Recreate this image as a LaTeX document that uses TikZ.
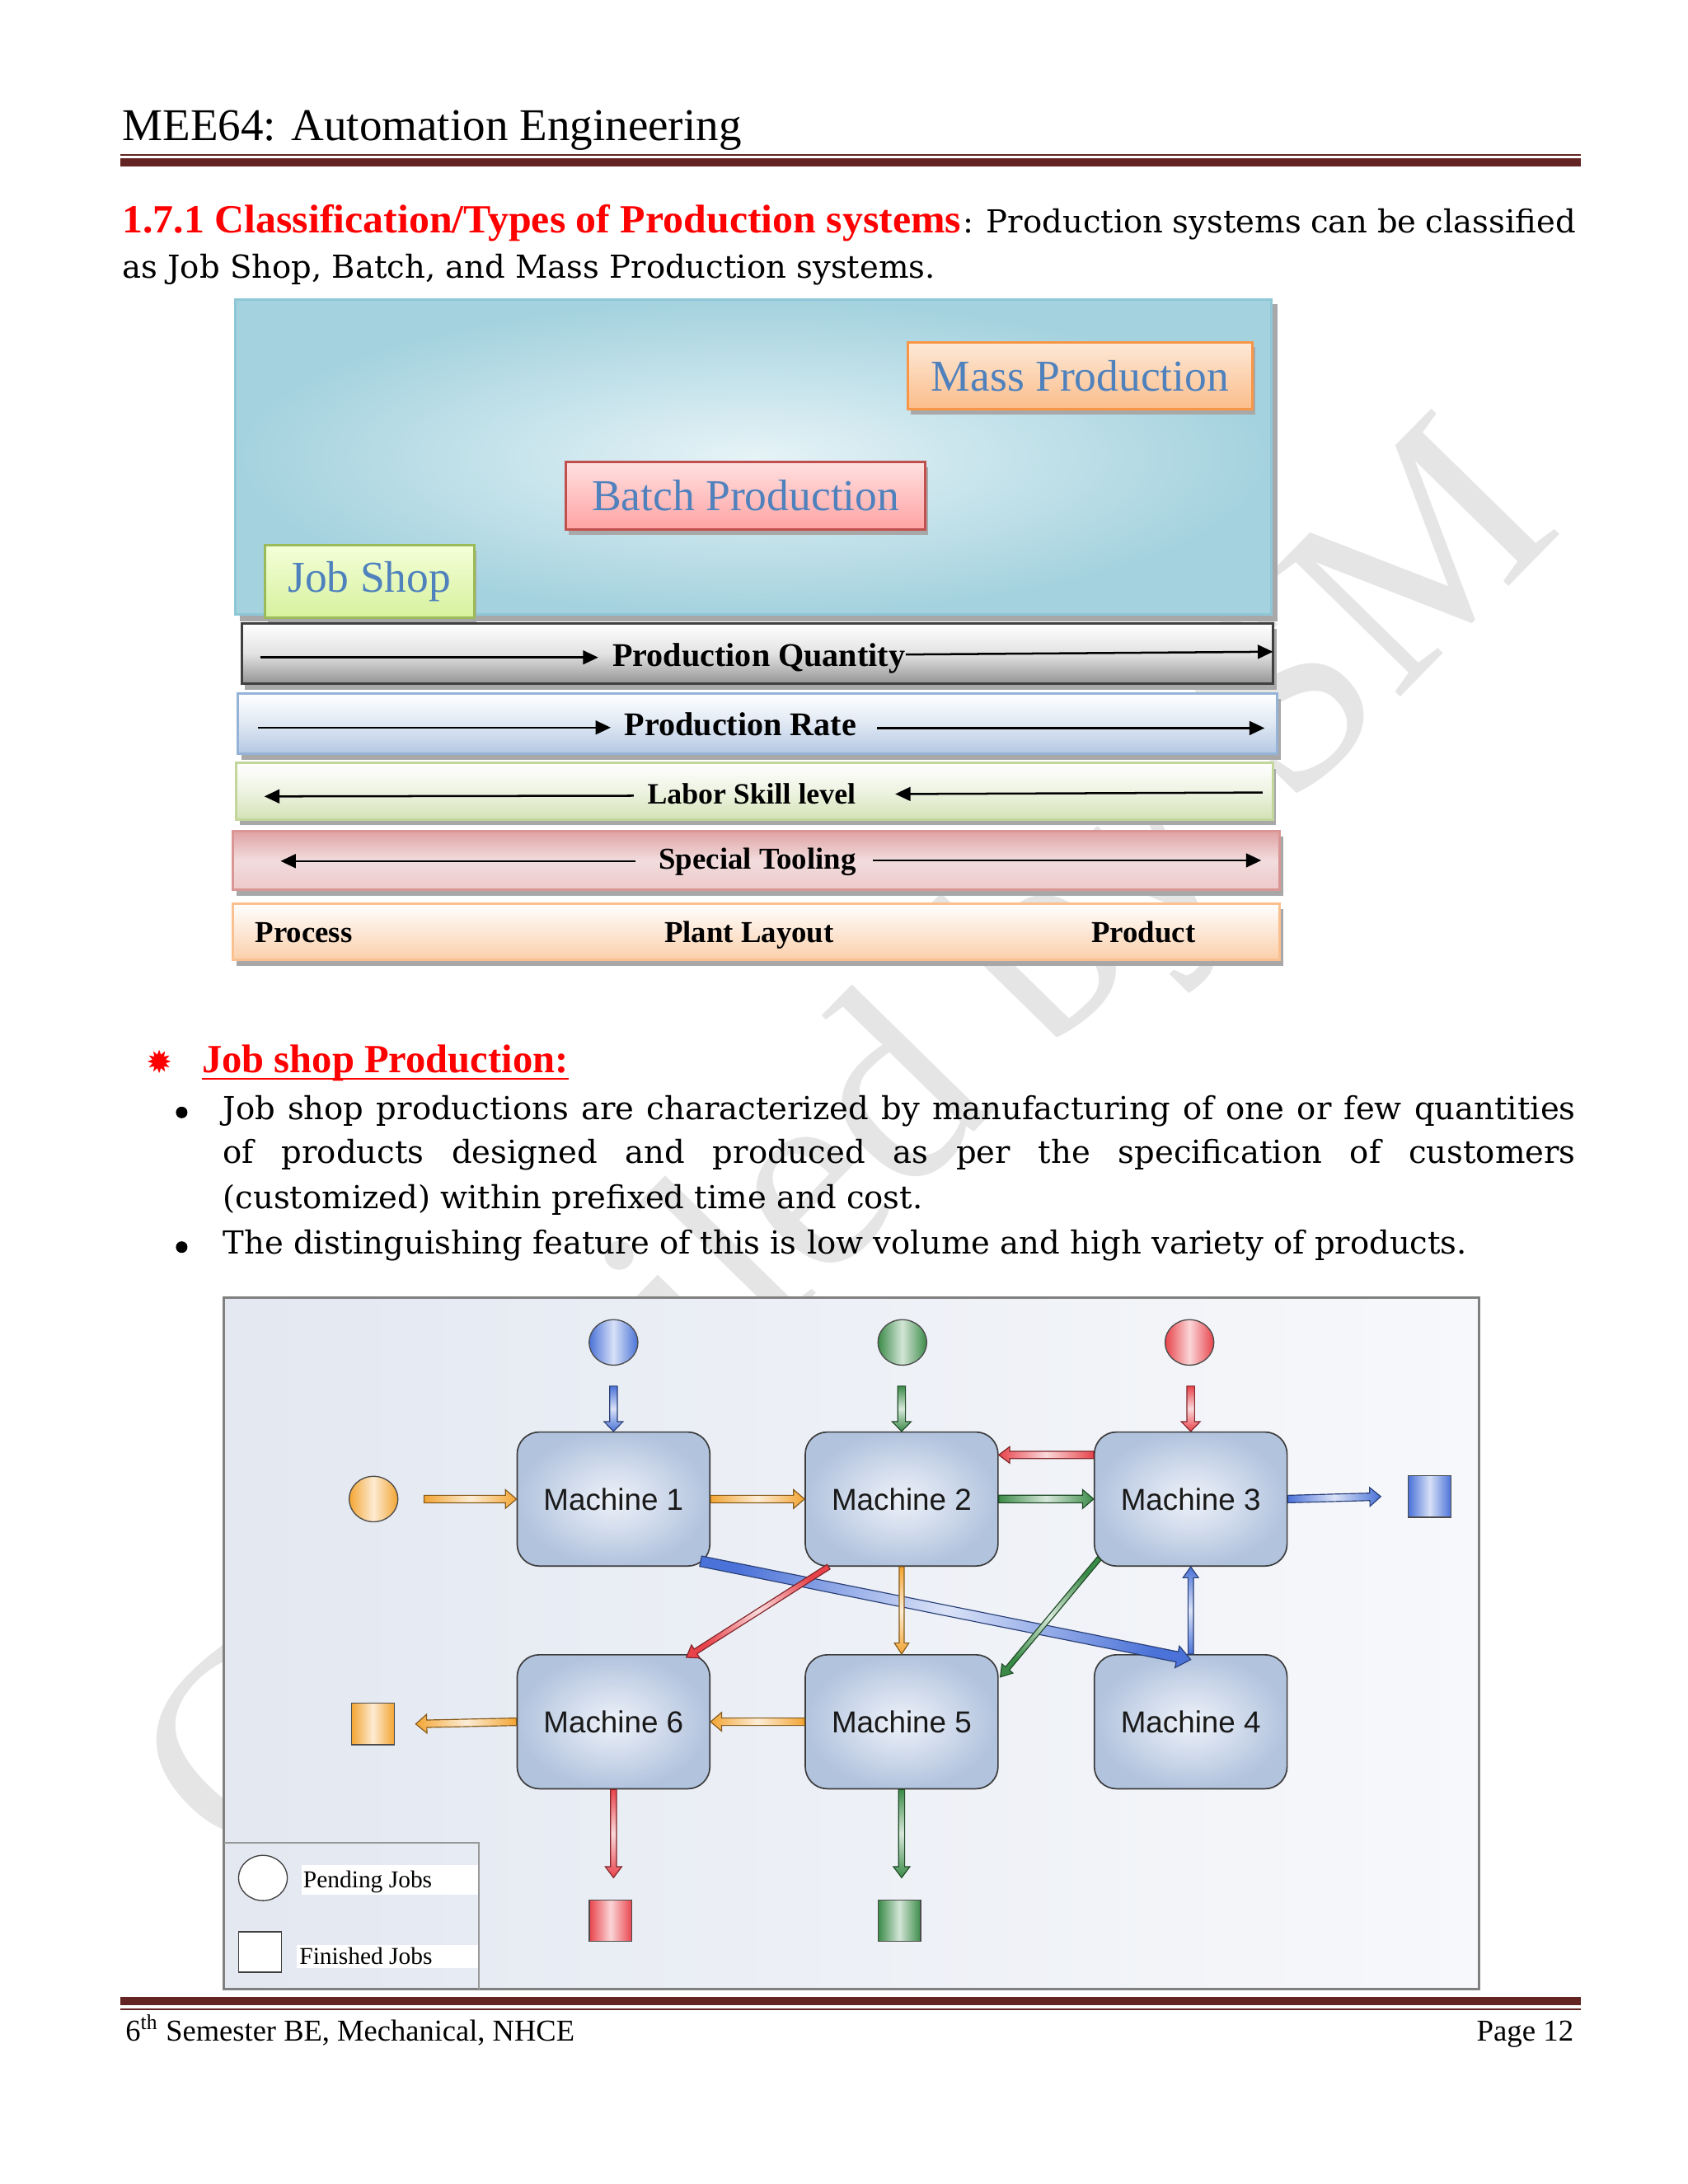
\documentclass[tikz,border=0pt]{standalone}
\usepackage{fontspec}
\usepackage{graphicx}
\usetikzlibrary{calc,shapes.geometric,arrows.meta}
\setmainfont{DejaVu Serif}
\newfontfamily\tms{Liberation Serif}
\newfontfamily\bodyfnt{DejaVu Serif}
\newfontfamily\arl{Liberation Sans}
\definecolor{hdrred}{HTML}{632423}
\definecolor{headred}{HTML}{FF0000}
\definecolor{txtblue}{HTML}{4F81BD}
\definecolor{bgout}{HTML}{A4D2DE}
\definecolor{bgin}{HTML}{E6F3F7}
\definecolor{bgborder}{HTML}{8EC7D7}
\definecolor{masstop}{HTML}{FDE9D8}
\definecolor{massbot}{HTML}{FBBD8A}
\definecolor{massbd}{HTML}{F79646}
\definecolor{battop}{HTML}{FFE0E0}
\definecolor{batbot}{HTML}{FFA3A3}
\definecolor{batbd}{HTML}{C0504D}
\definecolor{jobtop}{HTML}{F4FFD8}
\definecolor{jobbot}{HTML}{D6F19D}
\definecolor{jobbd}{HTML}{9BBB59}
\definecolor{pqbot}{HTML}{939393}
\definecolor{pqmid}{HTML}{E2E2E2}
\definecolor{pqbd}{HTML}{404040}
\definecolor{prbot}{HTML}{B3C7E3}
\definecolor{prmid}{HTML}{DFE8F3}
\definecolor{prbd}{HTML}{95B3D7}
\definecolor{lsbot}{HTML}{D4E2B6}
\definecolor{lsmid}{HTML}{EEF3E2}
\definecolor{lsbd}{HTML}{C3D69B}
\definecolor{sttop}{HTML}{E0A2A3}
\definecolor{stmid}{HTML}{F2DCDD}
\definecolor{stbot}{HTML}{EDC9CA}
\definecolor{stbd}{HTML}{D99694}
\definecolor{plbot}{HTML}{FBCFA9}
\definecolor{plmid}{HTML}{FDE7D5}
\definecolor{plbd}{HTML}{FAC090}
\definecolor{shad}{HTML}{A8A8A8}
\definecolor{jbblue}{HTML}{4A72D8}
\definecolor{jbgreen}{HTML}{3B8B48}
\definecolor{jbred}{HTML}{E8434B}
\definecolor{jborange}{HTML}{F3A533}
\definecolor{minner}{HTML}{EEF2F9}
\definecolor{mouter}{HTML}{B2C3DE}
\definecolor{mborder}{HTML}{3C3C3C}
\definecolor{frL}{HTML}{E3E8F1}
\definecolor{frR}{HTML}{F7F8FB}
\newlength\fitlen
\newcommand\fitw[2]{\settowidth\fitlen{#2}\pgfmathsetmacro\fitr{#1/\fitlen}\scalebox{\fitr}[1]{#2}}
\newcommand\bsz{\bodyfnt\fontsize{11.5}{14}\selectfont}
\newcommand\bline[1]{\scalebox{\bodyr}[1]{\bsz #1}}
\newcommand\bjust[2]{\pgfmathsetmacro\jw{#1/\bodyr}\scalebox{\bodyr}[1]{\makebox[\jw pt][s]{\bsz #2}}}
\newcommand\blk[7]{%
  \path ($(#2)!#5!(#1)$) coordinate (bkh);
  \draw[draw=#6!55!black, line width=0.35pt, line join=miter, left color=#6, right color=#6, middle color=#6!20!white, shading angle=#7]
   ($(#1)!#3!90:(#2)$) -- ($(bkh)!#3!90:(#2)$) -- ($(bkh)!#4!90:(#2)$) -- (#2) -- ($(bkh)!#4!-90:(#2)$) -- ($(bkh)!#3!-90:(#2)$) -- ($(#1)!#3!-90:(#2)$) -- cycle;
}
\tikzset{
  txt/.style={inner sep=0, outer sep=0, anchor=base west},
  barbox/.style={line width=0.9pt, inner sep=0},
  barr/.style={line width=0.75pt, -{Triangle[length=5.5pt,width=5pt]}},
  bartext/.style={inner sep=0, anchor=base, font=\tms\bfseries\fontsize{12}{14}\selectfont},
  clsbox/.style={line width=0.9pt, inner sep=0, font=\tms\fontsize{16}{18}\selectfont, text=txtblue},
  machine/.style={draw=mborder, line width=0.5pt, rounded corners=8pt, inner color=minner, outer color=mouter, minimum width=69.9pt, minimum height=48.6pt, inner sep=0, font=\arl\fontsize{11}{13}\selectfont, text=black!90},
  pend/.style={ellipse, draw=black!70, line width=0.4pt, minimum width=17.7pt, minimum height=16.5pt, inner sep=0, left color=#1, right color=#1, middle color=#1!22!white},
  fin/.style={rectangle, draw=black!70, line width=0.4pt, minimum width=15.5pt, minimum height=15pt, inner sep=0, left color=#1, right color=#1, middle color=#1!22!white},
}
\begin{document}
\settowidth\fitlen{\bsz The distinguishing feature of this is low volume and high variety of products.}%
\pgfmathsetmacro\bodyr{451.2/\fitlen}%
\begin{tikzpicture}[x=0.50454pt,y=-0.50454pt]
\useasboundingbox (0,0) rectangle (1213,1570);
\fill[white] (0,0) rectangle (1213,1570);

% watermark
\node[rotate=45.6, anchor=base west, inner sep=0, text=black!10, font=\tms\fontsize{99.3}{100}\selectfont] (wm) at (176,1349) {Compiled by SM};

% header
\node[txt] (hdr) at (88,101) {\fitw{224.5}{\tms\fontsize{16.5}{18}\selectfont MEE64: Automation Engineering}};
\draw[hdrred, line width=0.5pt] (86.5,111.2) -- (1136.3,111.2);
\draw[hdrred, line width=3pt] (86.5,116.5) -- (1136.3,116.5);

% intro
\node[txt] (h171) at (88,167.5) {\fitw{304.2}{\tms\bfseries\fontsize{14.5}{16}\selectfont\color{headred}1.7.1 Classification/Types of Production systems}};
\node[txt] (l1b) at (692,167.5) {\bjust{222.4}{: Production systems can be classified}};
\node[txt] (l2) at (88,199.7) {\bline{as Job Shop, Batch, and Mass Production systems.}};

% classification figure
\fill[shad] (172.3,218.4) rectangle (918.5,446.8);
\node[clsbox, draw=bgborder, inner color=bgin, outer color=bgout, minimum width=375.7pt, minimum height=114.3pt] (clsbg) at (541.4,328.6) {};
\fill[shad] (654.7,249.4) rectangle (902.2,298);
\node[clsbox, draw=massbd, top color=masstop, bottom color=massbot, minimum width=124.9pt, minimum height=24.4pt] (mass) at (776.45,270.05) {Mass Production};
\fill[shad] (409,335.7) rectangle (667,384.5);
\node[clsbox, draw=batbd, top color=battop, bottom color=batbot, minimum width=130.2pt, minimum height=24.5pt] (batch) at (536,356.45) {Batch Production};
\fill[shad] (192.4,395.5) rectangle (342.7,448);
\node[clsbox, draw=jobbd, top color=jobtop, bottom color=jobbot, minimum width=75.8pt, minimum height=26.4pt] (job) at (265.55,418.15) {Job Shop};

% bars
\fill[shad] (176.2,452.3) rectangle (917.5,495.7);
\node[barbox, draw=pqbd, top color=white, bottom color=pqbot, middle color=pqmid, minimum width=374pt, minimum height=21.9pt] (pqbar) at (544.35,470) {};
\fill[shad] (173.3,502.6) rectangle (920.4,546);
\node[barbox, draw=prbd, top color=white, bottom color=prbot, middle color=prmid, minimum width=377pt, minimum height=21.9pt] (prbar) at (544.35,520.3) {};
\fill[shad] (172.3,552.5) rectangle (917.4,593);
\node[barbox, draw=lsbd, top color=white, bottom color=lsbot, middle color=lsmid, minimum width=375.9pt, minimum height=20.4pt] (lsbar) at (542.35,568.75) {};
\fill[shad] (169.8,601.4) rectangle (922.4,643.8);
\node[barbox, draw=stbd, top color=sttop, bottom color=stbot, middle color=stmid, minimum width=379.7pt, minimum height=21.4pt] (stbar) at (543.6,618.6) {};
\fill[shad] (169.8,653.3) rectangle (922.4,694.2);
\node[barbox, draw=plbd, top color=white, bottom color=plbot, middle color=plmid, minimum width=379.7pt, minimum height=20.6pt] (plbar) at (543.6,669.75) {};

\node[bartext] (pqt) at (545.5,478.8) {Production Quantity};
\coordinate (pqA) at (187,472.6); \coordinate (pqB) at (430,472.6);
\coordinate (pqC) at (651,470.5); \coordinate (pqD) at (915,468.5);
\draw[barr] (pqA) -- (pqB);
\draw[barr] (pqC) -- (pqD);

\node[bartext] (prt) at (532.3,528.8) {Production Rate};
\coordinate (prA) at (185.5,523); \coordinate (prB) at (439,523);
\coordinate (prC) at (630.6,523.4); \coordinate (prD) at (909,523.4);
\draw[barr] (prA) -- (prB);
\draw[barr] (prC) -- (prD);

\node[bartext, font=\tms\bfseries\fontsize{10.7}{13}\selectfont] (lst) at (540.2,578) {Labor Skill level};
\coordinate (lsA) at (455.5,572); \coordinate (lsB) at (190,572.5);
\coordinate (lsC) at (907.6,569.7); \coordinate (lsD) at (643.5,570.8);
\draw[barr] (lsA) -- (lsB);
\draw[barr] (lsC) -- (lsD);

\node[bartext, font=\tms\bfseries\fontsize{11}{13}\selectfont] (stt) at (544.4,625) {Special Tooling};
\coordinate (stA) at (457,619); \coordinate (stB) at (201.7,619);
\coordinate (stC) at (627.6,618.5); \coordinate (stD) at (906.6,618.5);
\draw[barr] (stA) -- (stB);
\draw[barr] (stC) -- (stD);

\node[txt, font=\tms\bfseries\fontsize{11}{13}\selectfont] (plp) at (183.5,677.3) {Process};
\node[bartext, font=\tms\bfseries\fontsize{11}{13}\selectfont] (pll) at (538.5,677.3) {Plant Layout};
\node[bartext, font=\tms\bfseries\fontsize{11}{13}\selectfont] (plr) at (822,677.3) {Product};

% job shop text
\node[star, star points=12, star point ratio=1.7, fill=headred, inner sep=0, minimum size=8.5pt] (jstar) at (114.4,763) {};
\node[txt] (jsh) at (145.3,771.1) {\fitw{132.8}{\tms\bfseries\fontsize{14.5}{16}\selectfont\color{headred}Job shop Production:}};
\draw[headred, line width=0.7pt] ([yshift=-2.3pt]jsh.base west) -- ([yshift=-2.3pt]jsh.base east);
\node[circle, fill=black, inner sep=0, minimum size=4.2pt] (bul1) at (130.6,799.7) {};
\node[txt] (bl1) at (160.3,804.7) {\bjust{490.6}{Job shop productions are characterized by manufacturing of one or few quantities}};
\node[txt] (bl2) at (160.3,836.3) {\bjust{490.6}{of products designed and produced as per the specification of customers}};
\node[txt] (bl3) at (160.3,868.9) {\bline{(customized) within prefixed time and cost.}};
\node[circle, fill=black, inner sep=0, minimum size=4.2pt] (bul2) at (130.6,896.5) {};
\node[txt] (bl4) at (160.3,901.5) {\bline{The distinguishing feature of this is low volume and high variety of products.}};

% job shop figure
\draw[draw=black!50, line width=0.8pt, left color=frL, right color=frR] (161,933) rectangle (1063,1430);
\fill[white] (217,1340.8) rectangle (343.6,1361.9);
\fill[white] (213,1398.4) rectangle (343.6,1415);
\draw[black!40, line width=0.6pt] (161,1324.5) -- (344,1324.5) -- (344,1430);
\node[ellipse, draw=black!75, fill=white, line width=0.4pt, minimum width=17.7pt, minimum height=16.4pt, inner sep=0] (lgc) at (189,1350) {};
\node[rectangle, draw=black!75, fill=white, line width=0.4pt, minimum width=15.6pt, minimum height=14.7pt, inner sep=0] (lgs) at (187,1403.2) {};
\node[txt, font=\tms\fontsize{8.8}{10}\selectfont] (lgt1) at (218,1356.7) {Pending Jobs};
\node[txt, font=\tms\fontsize{8.8}{10}\selectfont] (lgt2) at (215.3,1411.8) {Finished Jobs};

\node[machine] (m1) at (441,1077.6) {Machine 1};
\node[machine] (m2) at (648.1,1077.6) {Machine 2};
\node[machine] (m3) at (855.9,1077.6) {Machine 3};
\node[machine] (m6) at (441,1237.7) {Machine 6};
\node[machine] (m5) at (648.1,1237.7) {Machine 5};
\node[machine] (m4) at (855.9,1237.7) {Machine 4};

\node[pend=jbblue] (pb) at (441,965) {};
\node[pend=jbgreen] (pg) at (648.6,965) {};
\node[pend=jbred] (pr) at (855,965) {};
\node[pend=jborange] (po) at (268.5,1077.6) {};
\node[fin=jbblue] (fb) at (1027.7,1075.8) {};
\node[fin=jborange] (fo) at (268,1239.3) {};
\node[fin=jbred] (fr) at (438.9,1380.8) {};
\node[fin=jbgreen] (fg) at (646.5,1380.8) {};

\coordinate (pbs) at ([yshift=16.4pt]m1.north);
\coordinate (pgs) at ([yshift=16.4pt]m2.north);
\coordinate (prs) at ([yshift=16.4pt]m3.north);
\coordinate (pos) at ([xshift=-33.5pt]m1.west);
\coordinate (a32s) at ([yshift=16pt]m3.west);
\coordinate (a32e) at ([yshift=16pt]m2.east);
\coordinate (fbe) at ([xshift=-9.8pt]fb.west);
\coordinate (d14s) at ([xshift=-3.6pt,yshift=2pt]m1.south east);
\coordinate (d14e) at ([yshift=-2pt]m4.north);
\coordinate (d26s) at ([xshift=8.7pt]m2.south west);
\coordinate (d26e) at ([xshift=-8.8pt,yshift=-1.2pt]m6.north east);
\coordinate (d35s) at ([xshift=2pt,yshift=3pt]m3.south west);
\coordinate (d35e) at ([xshift=0.6pt,yshift=-8.3pt]m5.north east);
\coordinate (foe) at ([xshift=7.6pt]fo.east);
\coordinate (m6d) at ([yshift=-32pt]m6.south);
\coordinate (m5d) at ([yshift=-32pt]m5.south);

\blk{pbs}{m1.north}{1.4pt}{3.4pt}{3.5pt}{jbblue}{0}
\blk{pgs}{m2.north}{1.4pt}{3.4pt}{3.5pt}{jbgreen}{0}
\blk{prs}{m3.north}{1.4pt}{3.4pt}{3.5pt}{jbred}{0}
\blk{pos}{m1.west}{1.35pt}{3.4pt}{4pt}{jborange}{90}
\blk{m1.east}{m2.west}{1.35pt}{3.4pt}{4pt}{jborange}{90}
\blk{m2.east}{m3.west}{1.4pt}{3.4pt}{4pt}{jbgreen}{90}
\blk{a32s}{a32e}{1.3pt}{3pt}{4pt}{jbred}{90}
\blk{m3.east}{fbe}{1.35pt}{3.4pt}{4pt}{jbblue}{90}
\blk{d14s}{d14e}{1.9pt}{4pt}{5pt}{jbblue}{78.6}
\blk{d26s}{d26e}{1pt}{2.8pt}{4pt}{jbred}{303}
\blk{m2.south}{m5.north}{0.9pt}{2.6pt}{4pt}{jborange}{0}
\blk{d35s}{d35e}{0.9pt}{2.6pt}{4pt}{jbgreen}{320}
\blk{m4.north}{m3.south}{1pt}{2.8pt}{4pt}{jbblue}{0}
\blk{m5.west}{m6.east}{1.35pt}{3.4pt}{4pt}{jborange}{90}
\blk{m6.west}{foe}{1.35pt}{3.4pt}{4pt}{jborange}{90}
\blk{m6.south}{m6d}{1.1pt}{3pt}{4pt}{jbred}{0}
\blk{m5.south}{m5d}{1.1pt}{3pt}{4pt}{jbgreen}{0}

% footer
\draw[hdrred, line width=3pt] (86.5,1438.7) -- (1136.3,1438.7);
\draw[hdrred, line width=0.5pt] (86.5,1444.2) -- (1136.3,1444.2);
\node[txt] (ftl) at (90.3,1467) {\fitw{162.8}{\tms\fontsize{11}{13}\selectfont 6\textsuperscript{th} Semester BE, Mechanical, NHCE}};
\node[inner sep=0, anchor=base east, font=\tms\fontsize{11}{13}\selectfont] (ftr) at (1131.5,1467) {Page 12};
\end{tikzpicture}
\end{document}
